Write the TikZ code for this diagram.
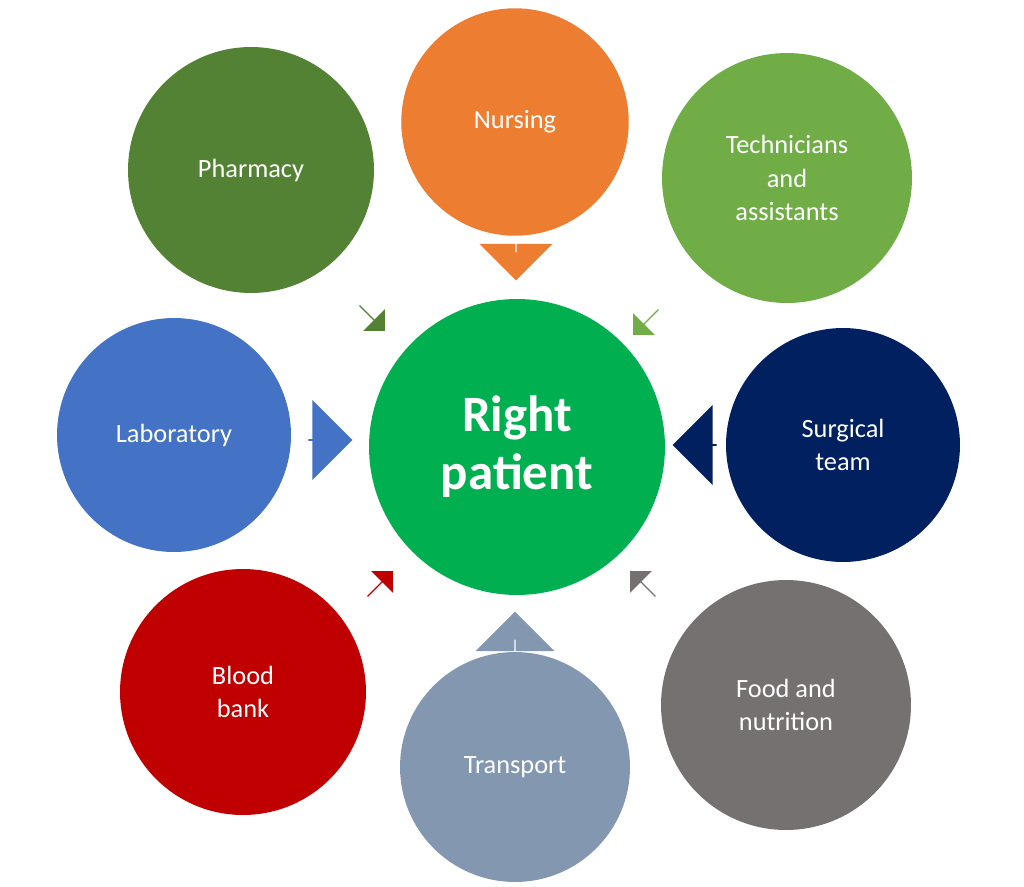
\documentclass[tikz,border=0pt]{standalone}
\usepackage{fontspec}
\setmainfont{Carlito}
\usetikzlibrary{shapes.arrows}
\definecolor{cCenter}{HTML}{00B050}
\definecolor{cNurse}{HTML}{ED7D31}
\definecolor{cTech}{HTML}{70AD47}
\definecolor{cPharm}{HTML}{548235}
\definecolor{cLab}{HTML}{4472C4}
\definecolor{cSurg}{HTML}{002060}
\definecolor{cBlood}{HTML}{C00000}
\definecolor{cTrans}{HTML}{8497B0}
\definecolor{cFood}{HTML}{767171}
\tikzset{
  dept/.style={circle, minimum size=#1, inner sep=0pt, text=white,
    align=center, font=\fontsize{15}{19}\selectfont},
  feed/.style={single arrow, draw=none, inner sep=0pt, single arrow head extend=#1},
}
\begin{document}
\begin{tikzpicture}[x=0.02cm, y=-0.02cm]
  \useasboundingbox (0,0) rectangle (1024,886);

  % Centre
  \node[dept=5.92cm, fill=cCenter, font=\fontsize{29}{33}\selectfont\bfseries]
    (patient) at (517,447) {Right\\patient};

  % Departments
  \node[dept=4.55cm, fill=cNurse]  (nursing) at (515,122) {Nursing};
  \node[dept=5cm,    fill=cTech]   (tech)    at (787,178) {Technicians\\and\\assistants};
  \node[dept=4.92cm, fill=cPharm]  (pharm)   at (251,170) {Pharmacy};
  \node[dept=4.68cm, fill=cLab]    (lab)     at (174,435) {Laboratory};
  \node[dept=4.68cm, fill=cSurg]   (surg)    at (843,445) {Surgical\\team};
  \node[dept=4.92cm, fill=cBlood]  (blood)   at (243,692) {Blood\\bank};
  \node[dept=4.6cm,  fill=cTrans]  (trans)   at (515,767) {Transport};
  \node[dept=5cm,    fill=cFood]   (food)    at (786,705) {Food and\\nutrition};

  % Block arrows
  \node[feed=0.4cm, fill=cNurse, minimum height=0.56cm, minimum width=1.46cm, rotate=-90]
    (aNurse) at (516,266) {};
  \node[feed=0.3cm, fill=cLab, minimum height=0.88cm, minimum width=1.6cm]
    (aLab) at (330,440) {};
  \node[feed=0.3cm, fill=cSurg, minimum height=0.88cm, minimum width=1.6cm, rotate=180]
    (aSurg) at (695,445) {};
  \node[feed=0.4cm, fill=cTrans, minimum height=0.56cm, minimum width=1.58cm, rotate=90]
    (aTrans) at (515,626) {};
  \node[feed=0.15cm, fill=cPharm, minimum height=0.72cm, minimum width=0.62cm, rotate=-45]
    (aPharm) at (372,318) {};
  \node[feed=0.15cm, fill=cTech, minimum height=0.72cm, minimum width=0.62cm, rotate=-135]
    (aTech) at (646,322) {};
  \node[feed=0.15cm, fill=cBlood, minimum height=0.72cm, minimum width=0.62cm, rotate=45]
    (aBlood) at (380,584) {};
  \node[feed=0.15cm, fill=cFood, minimum height=0.72cm, minimum width=0.62cm, rotate=135]
    (aFood) at (643,584) {};
\end{tikzpicture}
\end{document}
